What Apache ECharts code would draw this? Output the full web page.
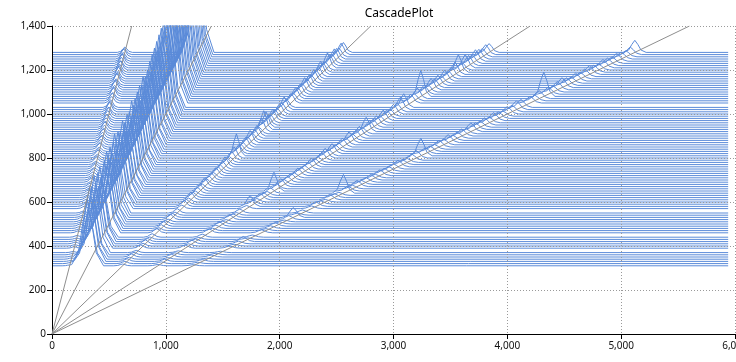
<!DOCTYPE html>
<html>
<head>
<meta charset="utf-8">
<script src="https://cdn.jsdelivr.net/npm/echarts@6/dist/echarts.min.js"></script>
<style>html,body{margin:0;padding:0;background:#fff}#chart{width:736px;height:362px}</style>
</head>
<body>
<div id="chart"></div>
<script>
// ---- data ----
const TITLE = 'CascadePlot';
const X_TICKS = [0, 1000, 2000, 3000, 4000, 5000, 6000];
const Y_TICKS = [0, 200, 400, 600, 800, 1000, 1200, 1400];
const END_FREQ = 5940;
const ORDERS = [0.5, 1, 2, 3, 4];
const RPM = [310,320,330,340,350,360,370,390,400,410,420,430,440,460,470,480,490,500,510,520,530,540,550,570,580,590,600,610,620,630,640,650,660,670,680,690,700,710,720,730,740,750,760,770,780,790,800,810,820,830,840,850,860,870,880,890,900,910,920,930,940,950,960,970,980,990,1000,1010,1020,1030,1050,1060,1070,1080,1090,1100,1110,1120,1130,1140,1150,1160,1170,1180,1190,1200,1210,1220,1230,1240,1250,1260,1270,1280];
const AMP_O05 = [4,5,4,6,5,6,5,7,6,8, 7,6,8,9,7,8,10,9,8,11, 10,12,9,11,13,10,12,14,11,13, 15,12,14,16,13,18,15,14,17,20, 16,22,18,15,24,20,17,26,21,19, 28,22,25,30,24,27,32,26,29,35, 28,33,38,30,36,40,32,44,38,35, 30,35,28,40,32,30,42,36,30,45, 38,34,45,40,36,42,32,38,44,34, 30,36,28,24];
const AMP_O1 = [300,240,340,270,320,250,350,280,330,260, 340,280,250,330,290,350,270,300,340,260, 290,330,360,270,340,280,320,260,350,290, 320,270,340,260,330,280,360,290,320,340, 290,350,300,360,280,340,370,300,350,320, 360,310,380,320,390,340,400,350,410,360, 420,370,430,380,440,390,450,400,460,410, 430,470,420,480,440,490,450,500,460,510, 470,520,480,500,460,520,480,470,500,520, 480,500,470,520];
const AMP_O2 = [8,10,12,9,14,11,10,15,12,18, 14,11,16,20,13,17,22,15,12,25, 18,14,20,16,28,22,18,35,24,20, 26,30,22,40,25,28,32,24,36,30, 28,34,45,30,26,38,50,100,40,32, 30,44,36,55,34,40,48,30,60,85, 70,45,38,52,40,36,48,42,58,38, 44,36,50,40,46,38,55,42,48,36, 52,40,46,60,44,38,68,50,42,56, 48,40,52,45];
const AMP_O3 = [6,8,10,7,12,9,8,14,10,16, 12,9,14,18,11,15,20,13,10,22, 16,12,18,14,50,20,16,30,22,18, 24,85,20,36,22,26,30,22,34,28, 26,32,40,28,24,36,44,30,45,30, 28,40,34,50,30,36,44,28,65,40, 36,42,34,48,38,32,44,40,56,62, 40,34,48,118,42,36,52,40,46,34, 50,38,44,56,80,36,60,46,40,52, 44,38,45,40];
const AMP_O4 = [5,6,8,5,9,7,6,10,8,12, 23,7,10,14,9,12,16,10,8,18, 45,10,14,12,20,16,12,24,18,14, 85,22,16,28,18,20,24,16,26,22, 20,24,30,22,18,28,34,80,26,24, 22,30,26,36,24,28,32,22,40,30, 28,32,26,36,30,24,34,30,40,36, 30,26,36,110,32,28,38,45,34,28, 36,30,34,40,32,28,38,34,30,36, 32,28,34,55];

// ---- styling ----
const PEAK_WIDTH = [30, 65, 35, 40, 45];
const SHAPE_X = [-2.2, -1.2, -0.6, 0, 0.6, 1.2, 2.2];
const SHAPE_Y = [0, 0.2, 0.65, 1, 0.65, 0.2, 0];
const LINE_COLOR = '#5b8bd9';
const ORDER_COLOR = '#8e8e8e';
const FONT = 'Noto Sans';

const AMPS = [AMP_O05, AMP_O1, AMP_O2, AMP_O3, AMP_O4];
const YMAX = Y_TICKS[Y_TICKS.length - 1];
const XMAX = X_TICKS[X_TICKS.length - 1];

function prof(u) {
  const n = SHAPE_X.length;
  if (u <= SHAPE_X[0] || u >= SHAPE_X[n - 1]) return 0;
  for (let k = 0; k < n - 1; k++) {
    if (u >= SHAPE_X[k] && u <= SHAPE_X[k + 1]) {
      const t = (u - SHAPE_X[k]) / (SHAPE_X[k + 1] - SHAPE_X[k]);
      return SHAPE_Y[k] + t * (SHAPE_Y[k + 1] - SHAPE_Y[k]);
    }
  }
  return 0;
}

function rowData(i) {
  const r = RPM[i];
  const peaks = ORDERS.map((o, k) => ({ f: o * r, a: AMPS[k][i], w: PEAK_WIDTH[k] }));
  let xs = [0, END_FREQ];
  peaks.forEach(p => SHAPE_X.forEach(s => xs.push(p.f + s * p.w)));
  xs = xs.filter(x => x >= 0 && x <= END_FREQ).sort((a, b) => a - b);
  const out = [];
  let last = -1;
  xs.forEach(x => {
    if (x - last < 1e-6) return;
    last = x;
    let h = 0;
    peaks.forEach(p => { h = Math.max(h, p.a * prof((x - p.f) / p.w)); });
    out.push([x, r + h]);
  });
  return out;
}

const series = [];
for (let i = RPM.length - 1; i >= 0; i--) {
  series.push({
    type: 'line', data: rowData(i), symbol: 'none', silent: true,
    lineStyle: { color: LINE_COLOR, width: 1 },
    areaStyle: { color: '#ffffff', opacity: 1 },
    z: 2, animation: false
  });
}
ORDERS.forEach(o => {
  series.push({
    type: 'line', data: [[0, 0], [o * YMAX, YMAX]], symbol: 'none', silent: true,
    lineStyle: { color: ORDER_COLOR, width: 1 }, z: 6, animation: false
  });
});

const fmt = v => Number(v).toLocaleString('en-US');
const chart = echarts.init(document.getElementById('chart'), null, { renderer: 'canvas' });
chart.setOption({
  animation: false,
  backgroundColor: '#ffffff',
  title: { text: TITLE, left: 394, top: 3, textAlign: 'center',
    textStyle: { fontFamily: FONT, fontSize: 12, fontWeight: 'normal', color: '#000' } },
  grid: { left: 52, right: 1, top: 26, bottom: 28, containLabel: false, outerBoundsMode: 'none' },
  xAxis: {
    type: 'value', min: 0, max: XMAX, interval: 1000, z: 4,
    axisLine: { lineStyle: { color: '#000', width: 1 } },
    axisTick: { show: true, length: 5, lineStyle: { color: '#000' } },
    axisLabel: { fontFamily: FONT, fontSize: 10, color: '#111', margin: 7, formatter: fmt },
    splitLine: { show: true, lineStyle: { color: '#9a9a9a', type: [1, 2], width: 1 } }
  },
  yAxis: {
    type: 'value', min: 0, max: YMAX, interval: 200, z: 4,
    axisLine: { show: true, lineStyle: { color: '#000', width: 1 } },
    axisTick: { show: true, length: 5, lineStyle: { color: '#000' } },
    axisLabel: { fontFamily: FONT, fontSize: 10, color: '#111', margin: 6, formatter: fmt },
    splitLine: { show: true, lineStyle: { color: '#9a9a9a', type: [1, 2], width: 1 } }
  },
  series: series
});
</script>
</body>
</html>
